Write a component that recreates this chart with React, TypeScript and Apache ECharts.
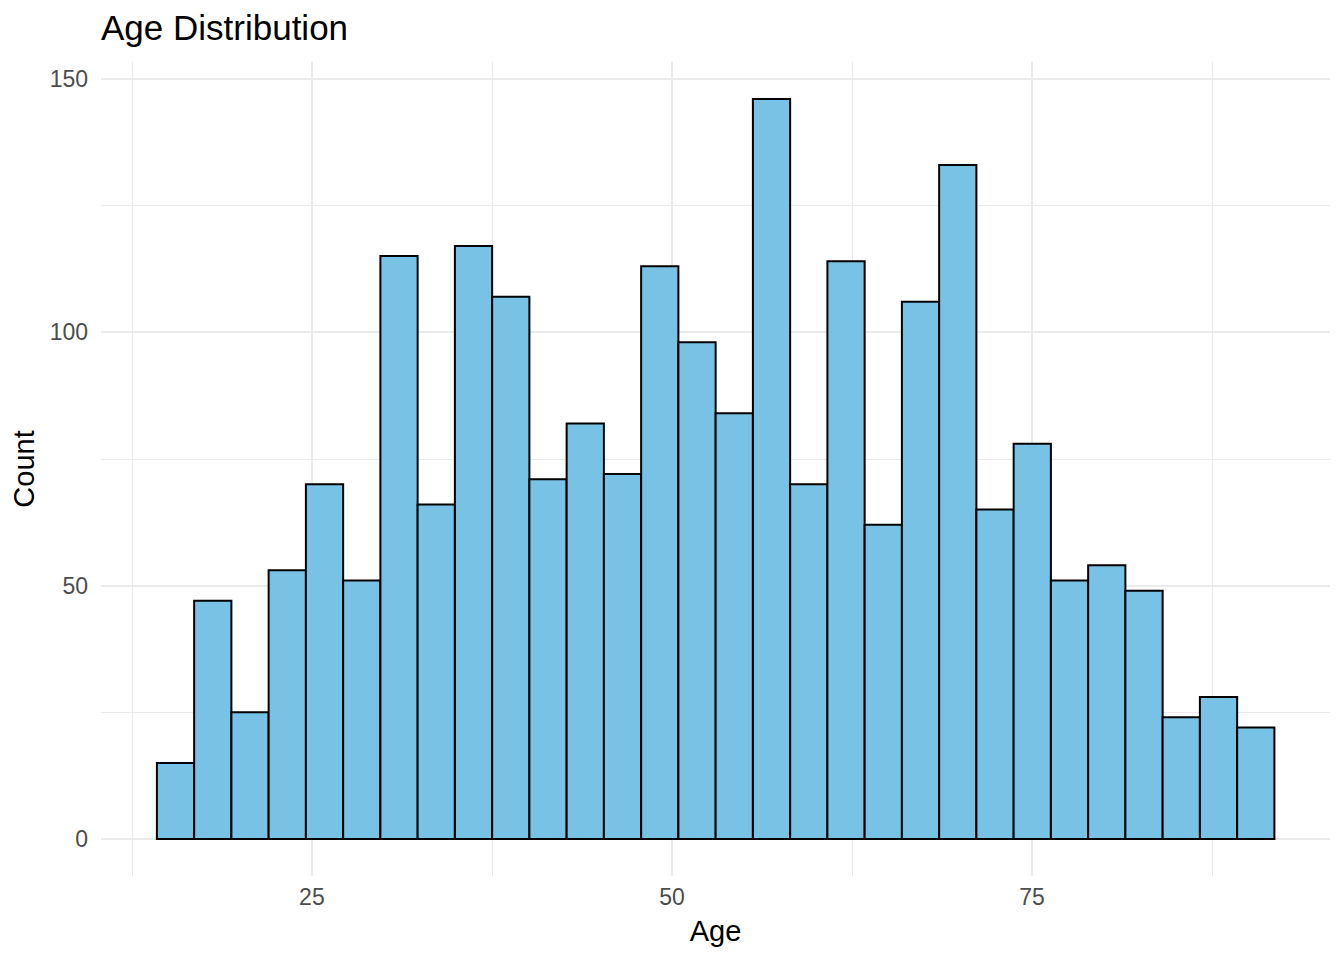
import React, { useEffect, useRef } from "react";
import * as echarts from "echarts";

const title = "Age Distribution";
const xName = "Age";
const yName = "Count";
const binStart = 14.24;
const binWidth = 2.586;
const counts = [15, 47, 25, 53, 70, 51, 115, 66, 117, 107, 71, 82, 72, 113, 98, 84, 146, 70, 114, 62, 106, 133, 65, 78, 51, 54, 49, 24, 28, 22];
const xMajor = [25, 50, 75];
const xMinor = [12.5, 37.5, 62.5, 87.5];
const yMajor = [0, 50, 100, 150];
const yMinor = [25, 75, 125];
const xRange = [10.36, 95.68];
const yRange = [-7.3, 153.3];

const FONT = "'Liberation Sans', Arial, Helvetica, sans-serif";

export default function App() {
  const ref = useRef<HTMLDivElement>(null);
  useEffect(() => {
    if (!ref.current) return;
    const chart = echarts.init(ref.current, undefined, { renderer: "svg" });
    const bins = counts.map((c, i) => [binStart + i * binWidth, binStart + (i + 1) * binWidth, c]);
    const gridLine = (w: number) => ({ color: "#EBEBEB", width: w, type: "solid" as const });
    const markData = [
      ...xMajor.map((v) => ({ xAxis: v, lineStyle: gridLine(2) })),
      ...xMinor.map((v) => ({ xAxis: v, lineStyle: gridLine(1) })),
      ...yMajor.map((v) => ({ yAxis: v, lineStyle: gridLine(2) })),
      ...yMinor.map((v) => ({ yAxis: v, lineStyle: gridLine(1) })),
    ];
    chart.setOption({
      animation: false,
      backgroundColor: "#ffffff",
      textStyle: { fontFamily: FONT },
      title: {
        text: title,
        left: 101,
        top: 10,
        padding: 0,
        textStyle: { fontFamily: FONT, fontSize: 35, fontWeight: "normal", color: "#000000" },
      },
      grid: { left: 101, right: 14, top: 62, bottom: 84, containLabel: false },
      xAxis: {
        type: "value",
        min: xRange[0],
        max: xRange[1],
        name: xName,
        nameLocation: "middle",
        nameGap: 40,
        nameTextStyle: { fontFamily: FONT, fontSize: 29, color: "#000000" },
        axisLine: { show: false },
        axisTick: { show: false },
        splitLine: { show: false },
        axisLabel: {
          customValues: xMajor,
          fontFamily: FONT,
          fontSize: 23,
          color: "#4D4D4D",
          margin: 9,
        },
      },
      yAxis: {
        type: "value",
        min: yRange[0],
        max: yRange[1],
        name: yName,
        nameLocation: "middle",
        nameGap: 56,
        nameRotate: 90,
        nameTextStyle: { fontFamily: FONT, fontSize: 29, color: "#000000" },
        axisLine: { show: false },
        axisTick: { show: false },
        splitLine: { show: false },
        axisLabel: {
          customValues: yMajor,
          fontFamily: FONT,
          fontSize: 23,
          color: "#4D4D4D",
          margin: 13,
        },
      },
      series: [
        {
          type: "line",
          data: [],
          z: 0,
          silent: true,
          markLine: {
            z: 0,
            silent: true,
            symbol: ["none", "none"],
            label: { show: false },
            emphasis: { disabled: true },
            data: markData,
          },
        },
        {
          type: "custom",
          z: 10,
          data: bins,
          encode: { x: [0, 1], y: 2 },
          renderItem: (params: any, api: any) => {
            const p0 = api.coord([api.value(0), 0]);
            const p1 = api.coord([api.value(1), api.value(2)]);
            return {
              type: "rect",
              shape: { x: p0[0], y: p1[1], width: p1[0] - p0[0], height: p0[1] - p1[1] },
              style: { fill: "#78C2E5", stroke: "#000000", lineWidth: 2 },
            };
          },
        },
      ],
    });
    return () => chart.dispose();
  }, []);
  return <div ref={ref} style={{ width: 1344, height: 960, position: "absolute", left: 0, top: 0 }} />;
}
